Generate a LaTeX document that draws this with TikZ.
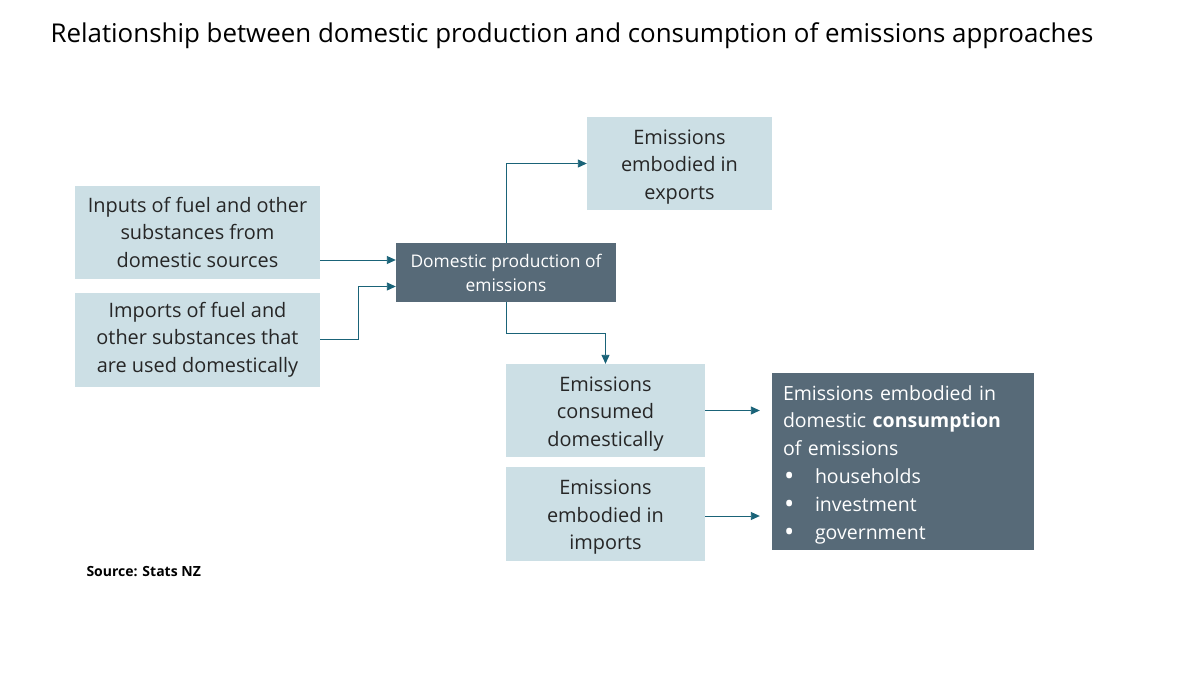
\documentclass[tikz,border=0pt]{standalone}
\usepackage{fontspec}
\setmainfont{Open Sans}
\usetikzlibrary{arrows.meta, positioning, calc}
\definecolor{LightTeal}{RGB}{204,223,229}
\definecolor{SlateBlue}{RGB}{87,106,120}
\definecolor{ArrowTeal}{RGB}{26,99,120}
\definecolor{TextGrey}{RGB}{38,38,38}
\newcommand{\bulletitem}{\makebox[32pt][l]{\hspace{1pt}\raisebox{-2pt}{\scalebox{1.4}{•}}}}
\newcommand{\lowstrut}{\rule{0pt}{21pt}}

\begin{document}
\begin{tikzpicture}[x=1pt, y=-1pt,
    lightbox/.style={fill=LightTeal, text=TextGrey, align=center, inner sep=0pt,
        font=\fontsize{19.9}{27.5}\selectfont},
    darkbox/.style={fill=SlateBlue, text=white, inner sep=0pt},
    flow/.style={draw=ArrowTeal, line width=0.9pt, -{Triangle[length=9pt, width=8pt]}}]

\useasboundingbox[fill=white] (0,0) rectangle (1198,693);

% titulo y fuente
\node[anchor=base west, font=\fontsize{25.9}{30}\selectfont, text=black] (title) at (47,42)
    {Relationship between domestic production and consumption of emissions approaches};
\node[anchor=west, font=\fontsize{14}{17}\selectfont\bfseries, text=black] (source) at (83,572)
    {Source: Stats NZ};

% cajas de entrada
\node[lightbox, minimum width=245, minimum height=93] (inputs) at (197.5,232)
    {Inputs of fuel and other\\substances from\\domestic sources};
\node[lightbox, minimum width=245, minimum height=94] (imports) at (197.5,339.5)
    {Imports of fuel and\\other substances that\\are used domestically};

% produccion
\node[darkbox, minimum width=220, minimum height=59, align=center,
    font=\fontsize{17.4}{24}\selectfont] (prod) at (506,272.5)
    {Domestic production of\\emissions};

% salidas
\node[lightbox, minimum width=185, minimum height=93] (exports) at (679.5,163.5)
    {\lowstrut Emissions\\embodied in\\exports};
\node[lightbox, minimum width=199, minimum height=93] (consumed) at (605.5,410.5)
    {\lowstrut Emissions\\consumed\\domestically};
\node[lightbox, minimum width=199, minimum height=94] (embimports) at (605.5,514)
    {\lowstrut Emissions\\embodied in\\imports};

% consumo
\node[darkbox, minimum width=262, minimum height=177, text width=240, align=left,
    inner xsep=11pt, font=\fontsize{19.5}{27.8}\selectfont] (consumption) at (903,461.5)
    {\lowstrut Emissions embodied in\\domestic \textbf{consumption}\\of emissions\\
     \bulletitem households\\
     \bulletitem investment\\
     \bulletitem government};

% flechas
\coordinate (inA) at ([yshift=12.5pt]prod.west);
\coordinate (inB) at ([yshift=-14pt]prod.west);
\draw[flow] (inputs.east |- inA) -- (inA);
\draw[flow] (imports.east) -- ++(38,0) |- (inB);
\draw[flow] (prod.north) |- (exports.west);
\draw[flow] (prod.south) -- ++(0,31) -| (consumed.north);
\draw[flow, shorten >=12pt] (consumed.east) -- (consumed.east -| consumption.west);
\draw[flow, shorten >=12pt] ([yshift=-2pt]embimports.east) -- ([yshift=-2pt]embimports.east -| consumption.west);

\end{tikzpicture}
\end{document}
